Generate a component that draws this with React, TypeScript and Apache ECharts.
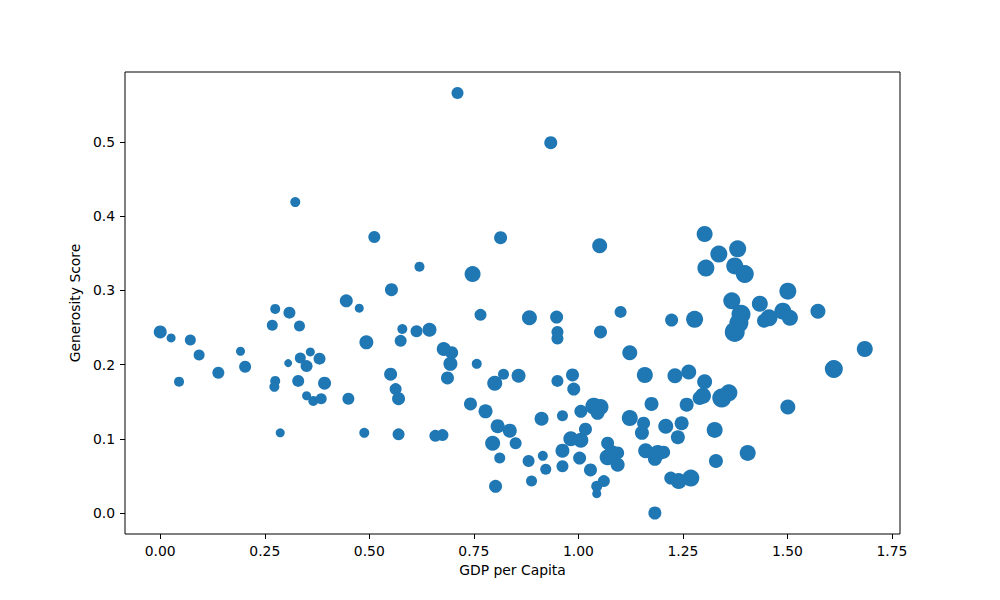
import { useEffect, useRef } from 'react'
import * as echarts from 'echarts'

// GDP per capita (x), generosity score (y), marker diameter
const gdp = [
  0.0, 0.026, 0.045, 0.072, 0.093, 0.139, 0.192, 0.203, 0.268, 0.275,
  0.275, 0.273, 0.287, 0.309, 0.306, 0.323, 0.333, 0.335, 0.33, 0.35,
  0.35, 0.359, 0.366, 0.381, 0.385, 0.393, 0.445, 0.45, 0.476, 0.488,
  0.493, 0.512, 0.553, 0.551, 0.563, 0.57, 0.57, 0.575, 0.579, 0.613,
  0.62, 0.644, 0.658, 0.675, 0.678, 0.687, 0.697, 0.694, 0.711, 0.742,
  0.747, 0.757, 0.766, 0.778, 0.795, 0.8, 0.802, 0.807, 0.814, 0.812,
  0.821, 0.836, 0.85, 0.857, 0.881, 0.883, 0.888, 0.912, 0.915, 0.922,
  0.934, 0.948, 0.95, 0.95, 0.95, 0.962, 0.962, 0.962, 0.986, 0.989,
  0.982, 1.003, 1.006, 1.006, 1.017, 1.029, 1.037, 1.053, 1.046, 1.044,
  1.044, 1.051, 1.053, 1.061, 1.07, 1.07, 1.08, 1.094, 1.094, 1.101,
  1.123, 1.123, 1.152, 1.156, 1.159, 1.161, 1.175, 1.183, 1.183, 1.19,
  1.204, 1.209, 1.223, 1.221, 1.231, 1.238, 1.24, 1.247, 1.259, 1.264,
  1.269, 1.278, 1.29, 1.298, 1.302, 1.302, 1.305, 1.326, 1.329, 1.336,
  1.343, 1.36, 1.367, 1.374, 1.381, 1.384, 1.389, 1.374, 1.398, 1.405,
  1.434, 1.444, 1.456, 1.489, 1.501, 1.506, 1.501, 1.573, 1.611, 1.685,
]

const generosity = [
  0.244, 0.236, 0.177, 0.233, 0.213, 0.189, 0.218, 0.197, 0.253, 0.275,
  0.178, 0.17, 0.108, 0.27, 0.202, 0.419, 0.252, 0.209, 0.178, 0.198,
  0.158, 0.217, 0.151, 0.208, 0.154, 0.175, 0.286, 0.154, 0.276, 0.108,
  0.23, 0.372, 0.301, 0.187, 0.167, 0.154, 0.106, 0.232, 0.248, 0.245,
  0.332, 0.247, 0.104, 0.105, 0.221, 0.182, 0.216, 0.201, 0.566, 0.147,
  0.322, 0.201, 0.267, 0.137, 0.094, 0.175, 0.036, 0.117, 0.371, 0.074,
  0.187, 0.111, 0.094, 0.185, 0.07, 0.263, 0.043, 0.127, 0.077, 0.059,
  0.499, 0.264, 0.244, 0.235, 0.178, 0.063, 0.084, 0.131, 0.186, 0.167,
  0.1, 0.074, 0.137, 0.098, 0.113, 0.058, 0.144, 0.143, 0.135, 0.036,
  0.026, 0.36, 0.244, 0.043, 0.094, 0.075, 0.082, 0.065, 0.081, 0.271,
  0.216, 0.128, 0.108, 0.121, 0.186, 0.084, 0.147, 0.0, 0.073, 0.081,
  0.082, 0.117, 0.26, 0.047, 0.185, 0.102, 0.043, 0.121, 0.146, 0.19,
  0.047, 0.261, 0.155, 0.158, 0.177, 0.376, 0.33, 0.112, 0.07, 0.349,
  0.155, 0.162, 0.286, 0.333, 0.356, 0.256, 0.268, 0.244, 0.322, 0.081,
  0.282, 0.259, 0.263, 0.272, 0.299, 0.263, 0.143, 0.272, 0.194, 0.221,
]

const markerSize = [
  13, 9, 10, 11, 11, 12, 9, 12, 11, 10,
  10, 10, 9, 12, 8, 10, 11, 11, 12, 12,
  9, 9, 10, 12, 11, 13, 13, 12, 9, 10,
  14, 12, 13, 13, 12, 13, 12, 12, 10, 12,
  10, 14, 12, 12, 14, 13, 13, 14, 12, 13,
  16, 10, 12, 14, 15, 15, 13, 14, 13, 11,
  11, 14, 12, 14, 12, 15, 11, 14, 10, 11,
  13, 13, 12, 12, 12, 12, 14, 11, 13, 13,
  15, 13, 13, 15, 13, 13, 17, 16, 14, 11,
  9, 15, 13, 12, 13, 16, 14, 14, 13, 12,
  15, 16, 14, 13, 16, 15, 14, 13, 14, 16,
  13, 15, 13, 13, 15, 14, 16, 14, 14, 15,
  17, 17, 14, 16, 15, 16, 17, 16, 14, 17,
  19, 17, 17, 17, 17, 19, 19, 20, 18, 16,
  16, 14, 17, 17, 17, 16, 15, 15, 18, 16,
]

const xTicks = [0, 0.25, 0.5, 0.75, 1.0, 1.25, 1.5, 1.75]
const yTicks = [0, 0.1, 0.2, 0.3, 0.4, 0.5]

const FONT = 'DejaVu Sans, sans-serif'

// matplotlib-style 5% margins around the data
const padRange = (vals: number[]) => {
  const lo = Math.min(...vals)
  const hi = Math.max(...vals)
  const m = (hi - lo) * 0.05
  return [lo - m, hi + m]
}

export default function App() {
  const chartRef = useRef<HTMLDivElement>(null)

  useEffect(() => {
    if (!chartRef.current) return
    const chart = echarts.init(chartRef.current, null, { renderer: 'svg' })

    const [xMin, xMax] = padRange(gdp)
    const [yMin, yMax] = padRange(generosity)
    const points = gdp.map((x, i) => [x, generosity[i], markerSize[i]])

    const axisCommon = {
      type: 'value' as const,
      nameLocation: 'middle' as const,
      nameTextStyle: { color: '#000', fontSize: 13.9, fontFamily: FONT },
      axisLine: { show: false, onZero: false },
      splitLine: { show: false },
    }

    chart.setOption({
      animation: false,
      backgroundColor: '#fff',
      grid: {
        left: 125,
        top: 72,
        width: 775,
        height: 462,
        show: true,
        borderColor: '#000',
        borderWidth: 1,
        containLabel: false,
      },
      xAxis: {
        ...axisCommon,
        min: xMin,
        max: xMax,
        name: 'GDP per Capita',
        nameGap: 27,
        axisTick: {
          show: true,
          inside: false,
          length: 5,
          lineStyle: { color: '#000', width: 1 },
          customValues: xTicks,
        },
        axisLabel: {
          color: '#000',
          fontSize: 13.9,
          fontFamily: FONT,
          margin: 10,
          customValues: xTicks,
          formatter: (v: number) => v.toFixed(2),
        },
      },
      yAxis: {
        ...axisCommon,
        min: yMin,
        max: yMax,
        name: 'Generosity Score',
        nameGap: 38,
        axisTick: {
          show: true,
          inside: false,
          length: 5,
          lineStyle: { color: '#000', width: 1 },
          customValues: yTicks,
        },
        axisLabel: {
          color: '#000',
          fontSize: 13.9,
          fontFamily: FONT,
          margin: 10,
          customValues: yTicks,
          formatter: (v: number) => v.toFixed(1),
        },
      },
      series: [
        {
          type: 'scatter',
          data: points,
          symbolSize: (val: number[]) => val[2],
          itemStyle: { color: '#1f77b4', opacity: 1 },
        },
      ],
    })

    return () => {
      chart.dispose()
    }
  }, [])

  return (
    <div
      ref={chartRef}
      style={{ position: 'absolute', left: 0, top: 0, width: 1000, height: 600 }}
    />
  )
}
